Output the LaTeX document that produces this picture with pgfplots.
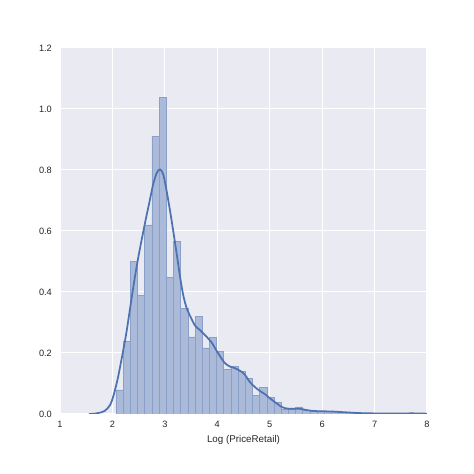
\documentclass[border=0pt]{standalone}
\usepackage{fontspec}
\setmainfont{Liberation Sans}
\usepackage{pgfplots}
\pgfplotsset{compat=1.18}
\definecolor{bgc}{RGB}{234,234,242}
\definecolor{sdeep}{RGB}{76,114,176}
\definecolor{barfill}{RGB}{171,186,216}
\definecolor{baredge}{RGB}{138,160,201}
\definecolor{txt}{RGB}{38,38,38}
\begin{document}
\begin{tikzpicture}
\begin{axis}[
  scale only axis,
  width=367pt, height=366pt,
  xmin=1, xmax=8, ymin=0, ymax=1.2,
  xtick={1,2,3,4,5,6,7,8},
  ytick={0,0.2,0.4,0.6,0.8,1.0,1.2},
  /pgf/number format/assume math mode=true,
  yticklabel style={/pgf/number format/fixed, /pgf/number format/fixed zerofill, /pgf/number format/precision=1, anchor=east, inner sep=0pt, xshift=-8pt},
  xticklabel style={anchor=north, inner sep=0pt, yshift=-7pt},
  ticklabel style={font=\fontsize{9.2}{11}\selectfont, text=txt},
  major tick length=0pt,
  axis background/.style={fill=bgc},
  axis line style={draw=none},
  grid=major,
  major grid style={draw=white, line width=1pt},
  xlabel={Log (PriceRetail)},
  xlabel style={at={(axis description cs:0.5,0)}, anchor=north, inner sep=0pt, yshift=-21.5pt, font=\fontsize{9.8}{12}\selectfont, text=txt},
  axis on top=false,
  clip=true,
]
\addplot[ybar interval, fill=barfill, draw=baredge, line width=0.6pt] coordinates {
(2.068,0.079) (2.205,0.237) (2.342,0.500) (2.479,0.390) (2.616,0.620)
(2.753,0.910) (2.890,1.038) (3.027,0.448) (3.164,0.565) (3.301,0.347)
(3.438,0.253) (3.575,0.319) (3.712,0.217) (3.849,0.251) (3.986,0.206)
(4.123,0.146) (4.260,0.155) (4.397,0.140) (4.534,0.118) (4.671,0.060)
(4.808,0.087) (4.945,0.055) (5.082,0.037) (5.219,0.016) (5.356,0.016)
(5.493,0.023) (5.630,0.013) (5.767,0.010) (5.904,0.010) (6.041,0.008)
(6.178,0.010) (6.315,0.006) (6.452,0.004) (6.589,0.003) (6.726,0.002)
(6.863,0.002) (7.000,0.002) (7.137,0.002) (7.274,0.002) (7.411,0.002)
(7.548,0.002) (7.685,0.002) (7.822,0.002) (7.959,0)
};
\addplot[color=sdeep, line width=1.75pt, smooth] coordinates {
(1.55,0.000) (1.65,0.001) (1.75,0.004) (1.85,0.010) (1.95,0.028)
(2.02,0.060) (2.10,0.115) (2.18,0.185) (2.26,0.260) (2.34,0.350)
(2.42,0.440) (2.50,0.520) (2.62,0.625) (2.70,0.690) (2.78,0.755)
(2.85,0.792) (2.91,0.802) (2.97,0.785) (3.03,0.735) (3.10,0.665)
(3.16,0.600) (3.23,0.520) (3.29,0.450) (3.35,0.390) (3.42,0.345)
(3.50,0.315) (3.575,0.290) (3.67,0.275) (3.77,0.258) (3.89,0.235)
(3.96,0.215) (4.05,0.190) (4.15,0.166) (4.25,0.155) (4.34,0.150)
(4.45,0.140) (4.53,0.128) (4.62,0.105) (4.72,0.088) (4.80,0.077)
(4.91,0.065) (5.00,0.052) (5.13,0.035) (5.22,0.024) (5.32,0.018)
(5.45,0.017) (5.58,0.017) (5.70,0.013) (5.83,0.010) (6.00,0.009)
(6.20,0.008) (6.40,0.006) (6.72,0.003) (7.00,0.002) (7.50,0.002)
(7.80,0.002) (8.00,0.001)
};
\end{axis}
\path (current axis.south west) ++(-60pt,-60pt) rectangle ([shift={(47pt,48pt)}]current axis.north east);
\end{tikzpicture}
\end{document}
